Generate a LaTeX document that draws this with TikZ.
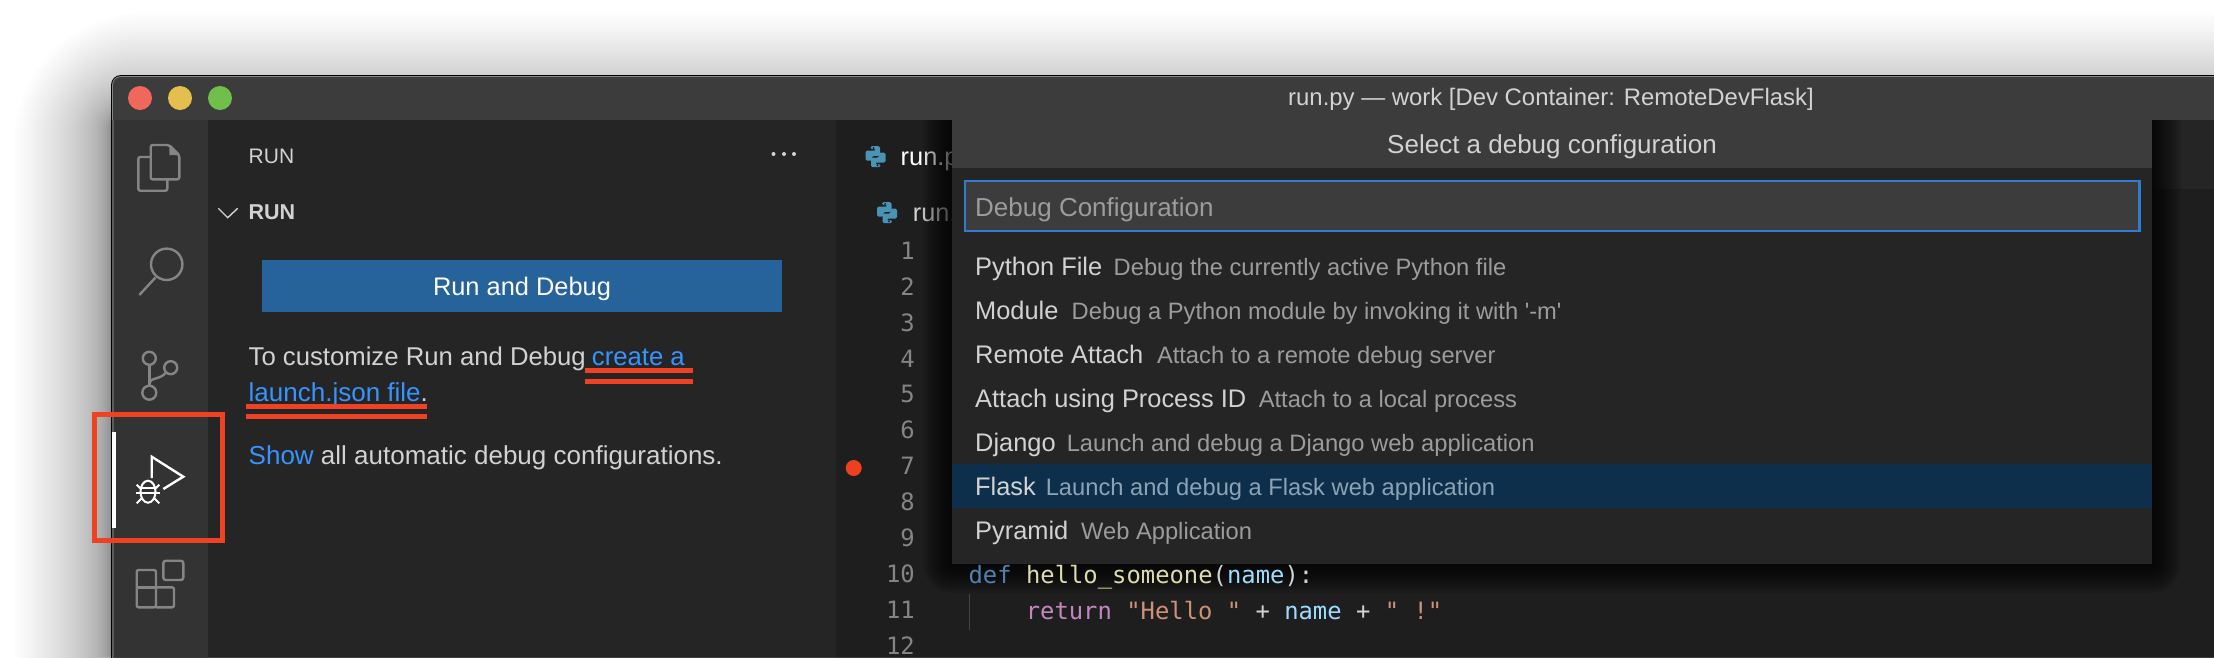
\documentclass[tikz,border=0pt]{standalone}
\usepackage{fontspec}
\newfontfamily\uifont{Liberation Sans}
\newfontfamily\codefont{DejaVu Sans Mono}
\definecolor{titlebg}{HTML}{3C3C3C}
\definecolor{activitybg}{HTML}{333333}
\definecolor{sidebg}{HTML}{252526}
\definecolor{editorbg}{HTML}{1E1E1E}
\definecolor{buttonbg}{HTML}{26639B}
\definecolor{inputblue}{HTML}{2F7CD0}
\definecolor{rowbg}{HTML}{0D2F4B}
\definecolor{labeltxt}{HTML}{D2D2D2}
\definecolor{dimtxt}{HTML}{9C9C9C}
\definecolor{flaskdim}{HTML}{8CA3B5}
\definecolor{linkblue}{HTML}{3794FF}
\definecolor{icongrey}{HTML}{858585}
\definecolor{markred}{HTML}{EE4223}
\definecolor{pyblue}{HTML}{4B93B5}
\definecolor{kwblue}{HTML}{4F82B0}
\definecolor{fnyellow}{HTML}{DCDCAA}
\definecolor{varblue}{HTML}{9CDCFE}
\definecolor{kwpink}{HTML}{C586C0}
\definecolor{strorange}{HTML}{CE9178}
\definecolor{lightred}{HTML}{F1675C}
\definecolor{lightyellow}{HTML}{E3C04E}
\definecolor{lightgreen}{HTML}{6FBF4A}
\tikzset{
  uitext/.style={inner sep=0pt,anchor=base west,text=labeltxt,font=\uifont\fontsize{25.4}{30}\selectfont},
  uihint/.style={uitext,font=\uifont\fontsize{26}{30}\selectfont},
  uidesc/.style={uitext,text=dimtxt,font=\uifont\fontsize{23.7}{28}\selectfont},
  linenum/.style={inner sep=0pt,anchor=base east,text=icongrey,font=\codefont\fontsize{23.85}{28}\selectfont},
  codeline/.style={inner sep=0pt,anchor=base west,text=labeltxt,font=\codefont\fontsize{23.85}{28}\selectfont},
  iconline/.style={draw=icongrey,line width=2.4pt},
  iconwhite/.style={draw=white,line width=2.4pt},
  redmark/.style={draw=markred,line width=5pt},
  pics/pylogo/.style={code={
    \fill[pyblue,rounded corners=1.5pt] (-5,-10.5) -- (4.5,-10.5) -- (4.5,-0.8) -- (-3.5,-0.8) -- (-3.5,4) -- (-10,4) -- (-10,-6) -- (0.5,-6) -- (0.5,-7.5) -- (-5,-7.5) -- cycle;
    \fill[pyblue,rounded corners=1.5pt,rotate=180] (-5,-10.5) -- (4.5,-10.5) -- (4.5,-0.8) -- (-3.5,-0.8) -- (-3.5,4) -- (-10,4) -- (-10,-6) -- (0.5,-6) -- (0.5,-7.5) -- (-5,-7.5) -- cycle;
    \fill[editorbg] (-2,-8.6) circle (1.1) (2,8.6) circle (1.1);
  }},
}
\begin{document}
\begin{tikzpicture}[x=1pt,y=-1pt]
\pgfmathsetmacro{\winx}{111}
\pgfmathsetmacro{\winy}{75}
\pgfmathsetmacro{\barb}{120}
\pgfmathsetmacro{\popl}{952}
\pgfmathsetmacro{\popr}{2152}
\pgfmathsetmacro{\popb}{564}
\useasboundingbox (0,0) rectangle (2214,657);
\fill[white] (0,0) rectangle (2214,657);
% window shadow
\foreach \k in {1,...,60}{
  \pgfmathsetmacro{\d}{\k*\k*0.027}
  \pgfmathsetmacro{\r}{\d*1.2+14}
  \fill[black,opacity=.0072,rounded corners=\r pt] (\winx-\d,\winy+40-\d*1.05) rectangle (2400,800);
}
% window
\fill[black,rounded corners=10pt] (\winx,\winy) rectangle (2300,800);
\fill[icongrey,rounded corners=9pt] (\winx+1,\winy+1) rectangle (2300,800);
\fill[titlebg,rounded corners=8pt] (\winx+2,\winy+2) rectangle (2300,800);
\fill[activitybg] (\winx+2,\barb) rectangle (208,657);
\fill[icongrey!70!black] (\winx+1,\barb) rectangle (\winx+3,657);
\fill[sidebg] (208,\barb) rectangle (835.5,657);
\fill[editorbg] (835.5,\barb) rectangle (2214,657);
\fill[sidebg] (960,\barb) rectangle (2214,189);
% traffic lights
\fill[lightred] (140,98) circle (12);
\fill[lightyellow] (180,98) circle (12);
\fill[lightgreen] (220,98) circle (12);
\node[uitext,anchor=base,font=\uifont\fontsize{23.9}{28}\selectfont] (wintitle) at (1551,105) {run.py — work [Dev Container: RemoteDevFlask]};
% activity bar
\draw[iconline,rounded corners=2pt] (150.7,157) -- (138.3,157) -- (138.3,190.7) -- (167.3,190.7) -- (167.3,179.3);
\draw[iconline,rounded corners=2pt] (169.3,145) -- (150.7,145) -- (150.7,179.3) -- (179.3,179.3) -- (179.3,155) -- cycle;
\fill[icongrey] (169.3,145) -- (179.3,155) -- (169.3,155) -- cycle;
\draw[iconline] (166.7,264.3) circle (15.7);
\draw[iconline] (155.5,277.5) -- (139.3,295);
\draw[iconline] (149.3,358.3) circle (6.5) (170.7,367.7) circle (6.5) (149.3,392.7) circle (7);
\draw[iconline] (149.3,364.8) -- (149.3,385.7);
\draw[iconline] (149.3,383) .. controls (151,377) and (160,380) .. (166,372.5);
\fill[white] (112,432) rectangle (116,528);
\draw[iconwhite] (151.7,478) -- (151.7,456.7) -- (183.3,476.7) -- (163.3,489);
\draw[iconwhite,line width=2pt] (148,491.7) ellipse (7.5 and 11);
\draw[iconwhite,line width=2pt] (136,493.3) -- (160,493.3) (141,488.3) -- (155,488.3);
\draw[iconwhite,line width=2pt] (136.7,484.7) -- (141,489) (159.3,484.7) -- (155,489) (136.7,503.3) -- (141.5,498.5) (159.3,503.3) -- (154.5,498.5);
\draw[iconline,rounded corners=2pt] (136.7,570) rectangle (156,607.3);
\draw[iconline,rounded corners=2pt] (156,587.3) -- (174,587.3) -- (174,607.3) -- (156,607.3);
\draw[iconline] (136.7,587.3) -- (156,587.3);
\draw[iconline,rounded corners=2.5pt] (163.3,560.7) rectangle (183.3,580);
% side bar
\node[uitext,font=\uifont\fontsize{21}{24}\selectfont] (runhead) at (248.5,163) {RUN};
\fill[labeltxt] (773.5,154) circle (2) (784,154) circle (2) (794,154) circle (2);
\draw[labeltxt,line width=1.4pt] (218.3,208.3) -- (227.7,217.7) -- (237.7,208.3);
\node[uitext,font=\uifont\bfseries\fontsize{21.5}{24}\selectfont] (runsect) at (248.5,219) {RUN};
\fill[buttonbg] (262,260) rectangle (782,312);
\node[uitext,anchor=base,text=white] (runbtn) at (522,295.7) {Run and Debug};
\node[uihint,font=\uifont\fontsize{25.7}{30}\selectfont] (hintone) at (248.5,365) {To customize Run and Debug};
\node[uihint,text=linkblue,font=\uifont\fontsize{25.7}{30}\selectfont] (hintlink) at (591.7,365) {create a};
\node[uihint] (hinttwo) at (248.5,401.7) {\textcolor{linkblue}{launch.json file}.};
\node[uihint] (hintshow) at (248.5,464) {\textcolor{linkblue}{Show} all automatic debug configurations.};
% editor
\pic at (875.5,156.7) {pylogo};
\node[uitext,text=white] (tabname) at (900.5,165) {run.py};
\pic at (887,212.7) {pylogo};
\node[uitext] (crumb) at (912.6,221) {run.py};
\fill[markred!95!red] (853.7,468) circle (8);
\node[linenum] (ln1) at (915,259.3) {1};
\node[linenum] (ln2) at (915,295.2) {2};
\node[linenum] (ln3) at (915,331.1) {3};
\node[linenum] (ln4) at (915,367) {4};
\node[linenum] (ln5) at (915,402.9) {5};
\node[linenum] (ln6) at (915,438.8) {6};
\node[linenum] (ln7) at (915,474.7) {7};
\node[linenum] (ln8) at (915,510.6) {8};
\node[linenum] (ln9) at (915,546.5) {9};
\node[linenum] (ln10) at (915,582.7) {10};
\node[linenum] (ln11) at (915,618.6) {11};
\node[linenum] (ln12) at (915,654.5) {12};
% popup shadow
\begin{scope}
\clip (835.5,\barb) rectangle (2214,657);
\foreach \k in {1,...,12}{
  \pgfmathsetmacro{\d}{\k*2.4}
  \fill[black,opacity=.09,rounded corners=\d pt] (\popl-\d,\barb-30) rectangle (\popr+\d,\popb+\d);
}
\end{scope}
\draw[icongrey!50!black,line width=1.2pt] (969.3,594) -- (969.3,630);
\node[codeline] (codedef) at (968.4,583) {\textcolor{kwblue}{def} \textcolor{fnyellow}{hello\_someone}(\textcolor{varblue}{name}):};
\node[codeline] (codeback) at (1025.6,619) {\textcolor{kwpink}{return} \textcolor{strorange}{"Hello "} + \textcolor{varblue}{name} + \textcolor{strorange}{" !"}};
% popup
\fill[sidebg] (\popl,\barb) rectangle (\popr,\popb);
\fill[titlebg] (\popl,\barb) rectangle (\popr,168);
\node[uitext,anchor=base,font=\uifont\fontsize{26}{30}\selectfont] (poptitle) at (1552,153) {Select a debug configuration};
\draw[inputblue,fill=titlebg,line width=2.4pt] (965,181) rectangle (2139.5,231);
\node[uitext,text=dimtxt,font=\uifont\fontsize{26}{30}\selectfont] (inputhint) at (975,216) {Debug Configuration};
\fill[rowbg] (\popl,464) rectangle (\popr,508);
\node[uitext] (pyfile) at (975,275) {Python File};
\node[uidesc] (pyfiledesc) at (1113.5,275) {Debug the currently active Python file};
\node[uitext] (module) at (975,319) {Module};
\node[uidesc] (moduledesc) at (1071.5,319) {Debug a Python module by invoking it with '-m'};
\node[uitext] (remote) at (975,363) {Remote Attach};
\node[uidesc] (remotedesc) at (1156.8,363) {Attach to a remote debug server};
\node[uitext] (attach) at (975,407) {Attach using Process ID};
\node[uidesc] (attachdesc) at (1258.6,407) {Attach to a local process};
\node[uitext] (django) at (975,451) {Django};
\node[uidesc] (djangodesc) at (1066.6,451) {Launch and debug a Django web application};
\node[uitext] (flask) at (975,495) {Flask};
\node[uidesc,text=flaskdim] (flaskdesc) at (1045.6,495) {Launch and debug a Flask web application};
\node[uitext] (pyramid) at (975,539) {Pyramid};
\node[uidesc] (pyramiddesc) at (1081,539) {Web Application};
% red marks
\draw[redmark] (94.5,414.5) rectangle (222.5,540.5);
\draw[redmark] (585,370.3) -- (692.5,370.3) (585,381.7) -- (692.5,381.7);
\draw[redmark] (246,406.3) -- (427,406.3) (246,416.3) -- (427,416.3);
\end{tikzpicture}
\end{document}
